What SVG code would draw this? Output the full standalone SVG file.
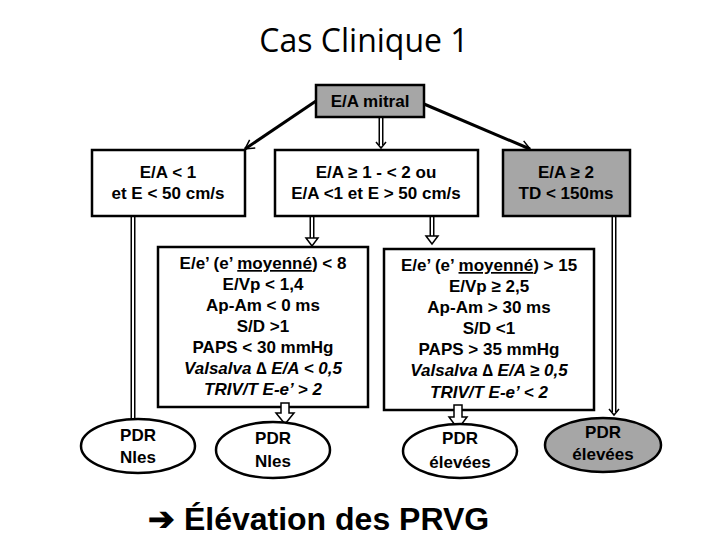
<svg xmlns="http://www.w3.org/2000/svg" width="728" height="546" viewBox="0 0 728 546">
<style>
.b{fill:#fff;stroke:#000;stroke-width:2.5}
.g{fill:#a6a6a6;stroke:#000;stroke-width:2.5}
text{font-family:"Liberation Sans",Arial,sans-serif;font-weight:bold;font-size:17px;text-anchor:middle;fill:#000}
.i{font-style:italic}
.ln{stroke:#000;stroke-width:3;fill:none}
.dbl{stroke:#000;stroke-width:5;fill:none}
.dbi{stroke:#fff;stroke-width:2;fill:none}
</style>
<defs>
<marker id="a" markerWidth="12" markerHeight="12" refX="10" refY="6" orient="auto" markerUnits="userSpaceOnUse"><path d="M1,1 L10,6 L1,11" fill="none" stroke="#000" stroke-width="1.5"/></marker>
</defs>
<text x="364" y="52" style="font-family:'Open Sans','Liberation Sans',sans-serif;font-weight:normal;font-size:32px">Cas Clinique 1</text>
<g id="connectors">
<line class="ln" x1="316" y1="101" x2="245" y2="149" marker-end="url(#a)"/>
<line class="ln" x1="424" y1="104" x2="530" y2="149" marker-end="url(#a)"/>
<g id="dbl">
<line class="dbl" x1="381" y1="117" x2="381" y2="145"/><line class="dbi" x1="381" y1="117" x2="381" y2="145"/><path d="M376,142 L381,148 L386,142" fill="none" stroke="#000" stroke-width="1.5"/>
<line class="dbl" x1="133" y1="216" x2="133" y2="422"/><line class="dbi" x1="133" y1="216" x2="133" y2="422"/><path d="M128,419 L133,425 L138,419" fill="none" stroke="#000" stroke-width="1.5"/>
<line class="dbl" x1="312" y1="216" x2="312" y2="242"/><line class="dbi" x1="312" y1="216" x2="312" y2="242"/><path d="M306,238 L312,246 L318,238 Z" fill="#fff" stroke="#000" stroke-width="1.5"/>
<line class="dbl" x1="432" y1="216" x2="432" y2="240"/><line class="dbi" x1="432" y1="216" x2="432" y2="240"/><path d="M426,236 L432,244 L438,236 Z" fill="#fff" stroke="#000" stroke-width="1.5"/>
<line class="dbl" x1="614" y1="216" x2="614" y2="412"/><line class="dbi" x1="614" y1="216" x2="614" y2="412"/><path d="M609,409 L614,415 L619,409" fill="none" stroke="#000" stroke-width="1.5"/>
</g>
</g>
<g id="top"><rect class="g" x="316" y="85" width="108" height="32"/><text x="370" y="107">E/A mitral</text></g>
<g id="left"><rect class="b" x="92" y="150" width="153" height="66"/><text x="168" y="178">E/A &lt; 1</text><text x="168" y="199">et E &lt; 50 cm/s</text></g>
<g id="mid"><rect class="b" x="275" y="150" width="203" height="66"/><text x="376" y="178">E/A ≥ 1 - &lt; 2 ou</text><text x="376" y="199">E/A &lt;1 et E &gt; 50 cm/s</text></g>
<g id="right"><rect class="g" x="503" y="150" width="127" height="66"/><text x="566" y="178">E/A ≥ 2</text><text x="566" y="199">TD &lt; 150ms</text></g>
<g id="critL"><rect class="b" x="158" y="247" width="210" height="160"/>
<text x="263" y="269">E/e’ (e’ <tspan text-decoration="underline">moyenné</tspan>) &lt; 8</text>
<text x="263" y="290">E/Vp &lt; 1,4</text><text x="263" y="311">Ap-Am &lt; 0 ms</text><text x="263" y="332">S/D &gt;1</text><text x="263" y="353">PAPS &lt; 30 mmHg</text>
<text class="i" x="263" y="374">Valsalva ∆ E/A &lt; 0,5</text><text class="i" x="263" y="395">TRIV/T E-e’ &gt; 2</text></g>
<g id="critR"><rect class="b" x="384" y="249" width="210" height="161"/>
<text x="489" y="271">E/e’ (e’ <tspan text-decoration="underline">moyenné</tspan>) &gt; 15</text>
<text x="489" y="292">E/Vp ≥ 2,5</text><text x="489" y="313">Ap-Am &gt; 30 ms</text><text x="489" y="334">S/D &lt;1</text><text x="489" y="355">PAPS &gt; 35 mmHg</text>
<text class="i" x="489" y="376">Valsalva ∆ E/A ≥ 0,5</text><text class="i" x="489" y="398">TRIV/T E-e’ &lt; 2</text></g>
<g id="blockarrows">
<path d="M281,403 L289,403 L289,413 L294,413 L285,424 L276,413 L281,413 Z" fill="#fff" stroke="#000" stroke-width="1.5"/>
<path d="M454,405 L462,405 L462,417 L467,417 L458,429 L449,417 L454,417 Z" fill="#fff" stroke="#000" stroke-width="1.5"/>
</g>
<g id="o1"><ellipse class="b" cx="138" cy="446" rx="57" ry="27"/><text x="138" y="441">PDR</text><text x="138" y="463">Nles</text></g>
<g id="o2"><ellipse class="b" cx="273" cy="450" rx="57" ry="28"/><text x="273" y="444">PDR</text><text x="273" y="467">Nles</text></g>
<g id="o3"><ellipse class="b" cx="460" cy="451" rx="57" ry="27"/><text x="460" y="444">PDR</text><text x="460" y="468">élevées</text></g>
<g id="o4"><ellipse class="g" cx="603" cy="445" rx="58" ry="27"/><text x="603" y="438">PDR</text><text x="603" y="460">élevées</text></g>
<text x="148" y="530" style="text-anchor:start;font-size:32px">➔ Élévation des PRVG</text>
</svg>
